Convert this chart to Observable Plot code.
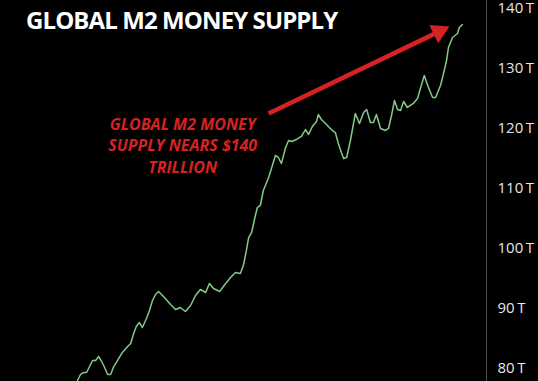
<!DOCTYPE html>
<html><head><meta charset="utf-8">
<script src="https://cdn.jsdelivr.net/npm/d3@7"></script>
<script src="https://cdn.jsdelivr.net/npm/@observablehq/plot@0.6"></script>
<style>
html,body{margin:0;padding:0;background:#000;}
#wrap{position:relative;width:538px;height:381px;overflow:hidden;background:#000;}
#title{position:absolute;left:26px;top:8px;font-family:"Open Sans";font-weight:700;font-size:24px;line-height:24px;color:#fff;letter-spacing:-0.9px;white-space:nowrap;}
</style></head><body>
<div id="wrap"><div id="chart"></div><div id="title">GLOBAL M2 MONEY SUPPLY</div></div>
<script>
// decimal years
const dates = [2015.75,2015.83,2015.91,2015.99,2016.07,2016.15,2016.23,2016.31,2016.39,2016.47,2016.55,2016.63,2016.70,2016.81,2016.94,2017.08,2017.16,2017.24,2017.31,2017.39,2017.47,2017.58,2017.66,2017.74,2017.82,2017.90,2017.98,2018.08,2018.22,2018.35,2018.48,2018.61,2018.75,2018.88,2019.01,2019.15,2019.25,2019.36,2019.52,2019.68,2019.81,2019.94,2020.07,2020.15,2020.23,2020.29,2020.37,2020.45,2020.52,2020.60,2020.68,2020.82,2020.92,2021.00,2021.08,2021.16,2021.27,2021.35,2021.43,2021.56,2021.69,2021.80,2021.88,2021.98,2022.09,2022.14,2022.22,2022.33,2022.43,2022.51,2022.59,2022.67,2022.75,2022.81,2022.89,2022.99,2023.12,2023.23,2023.34,2023.42,2023.52,2023.60,2023.68,2023.79,2023.92,2024.00,2024.08,2024.16,2024.24,2024.32,2024.40,2024.50,2024.66,2024.77,2024.87,2024.95,2025.03,2025.17,2025.25,2025.38,2025.46,2025.54,2025.59,2025.70,2025.83,2025.88,2025.96];
// trillions USD
const values = [78.0,79.0,79.33,79.33,80.33,81.33,81.33,82.0,81.17,80.17,79.0,79.0,80.17,81.33,82.67,83.67,84.17,85.83,87.0,87.67,86.83,88.33,89.67,91.33,92.33,92.83,92.33,91.67,90.67,89.83,90.17,89.5,90.5,92.17,93.17,92.67,94.17,93.33,92.83,94.17,95.17,96.0,95.83,97.17,99.67,101.83,102.67,105.0,106.83,107.17,109.67,111.83,113.83,115.5,115.17,114.17,116.83,118.0,117.83,118.17,118.67,119.83,119.0,120.33,121.17,122.33,121.5,120.83,120.17,119.67,119.33,117.5,116.0,115.0,115.17,118.0,122.5,120.83,122.67,123.17,121.0,121.0,122.33,120.0,119.67,120.0,122.17,124.67,123.17,123.0,124.5,123.5,124.17,125.0,127.17,128.83,127.33,125.17,125.17,127.17,129.17,131.33,133.5,135.17,135.83,136.83,137.33];
const yTicks = [80,90,100,110,120,130,140];
const xDomain = [2015.75, 2026.6];
const yDomain = [77.833, 141.333];
const annotationLines = ["GLOBAL M2 MONEY","SUPPLY NEARS $140","TRILLION"];
const annotationAt = [{t: 2018.54, v: 117.33}];
const arrowStart = {t: 2020.82, v: 122.5};
const arrowHead = {t: 2025.34, v: 136.15};

const data = dates.map((t,i)=>({t, v: values[i]}));
const arrow = [{x1: arrowStart.t, y1: arrowStart.v, x2: arrowHead.t, y2: arrowHead.v}];
const red = "#d62222";

const plot = Plot.plot({
  width:538, height:381, marginTop:0, marginBottom:0, marginLeft:77, marginRight:52,
  style:{background:"#000", color:"#e6e6e6", fontFamily:"Open Sans"},
  x:{domain:xDomain, axis:null},
  y:{domain:yDomain, axis:null},
  marks:[
    Plot.ruleX([xDomain[1]], {stroke:"#4a4a4a", strokeWidth:1}),
    Plot.axisY(yTicks, {anchor:"right", tickSize:0, tickPadding:11, tickFormat:d=>d+"\u2009T", fontSize:15, fill:"#e6e6e6", label:null}),
    Plot.line(data, {x:"t", y:"v", stroke:"#86c986", strokeWidth:1.5}),
    Plot.link(arrow, {x1:"x1", y1:"y1", x2:"x2", y2:"y2", stroke:red, strokeWidth:4.5}),
    Plot.dot([arrowHead], {x:"t", y:"v", symbol:"triangle", r:7.5, fill:red, stroke:"none", rotate:64.2}),
    Plot.text(annotationAt, {x:"t", y:"v", text:()=>annotationLines.join("\n"), lineHeight:1.34, fontSize:16, fontWeight:"bold", fontStyle:"italic", fill:red, textAnchor:"middle", lineAnchor:"middle"})
  ]
});
document.getElementById("chart").appendChild(plot);
</script>
</body></html>
